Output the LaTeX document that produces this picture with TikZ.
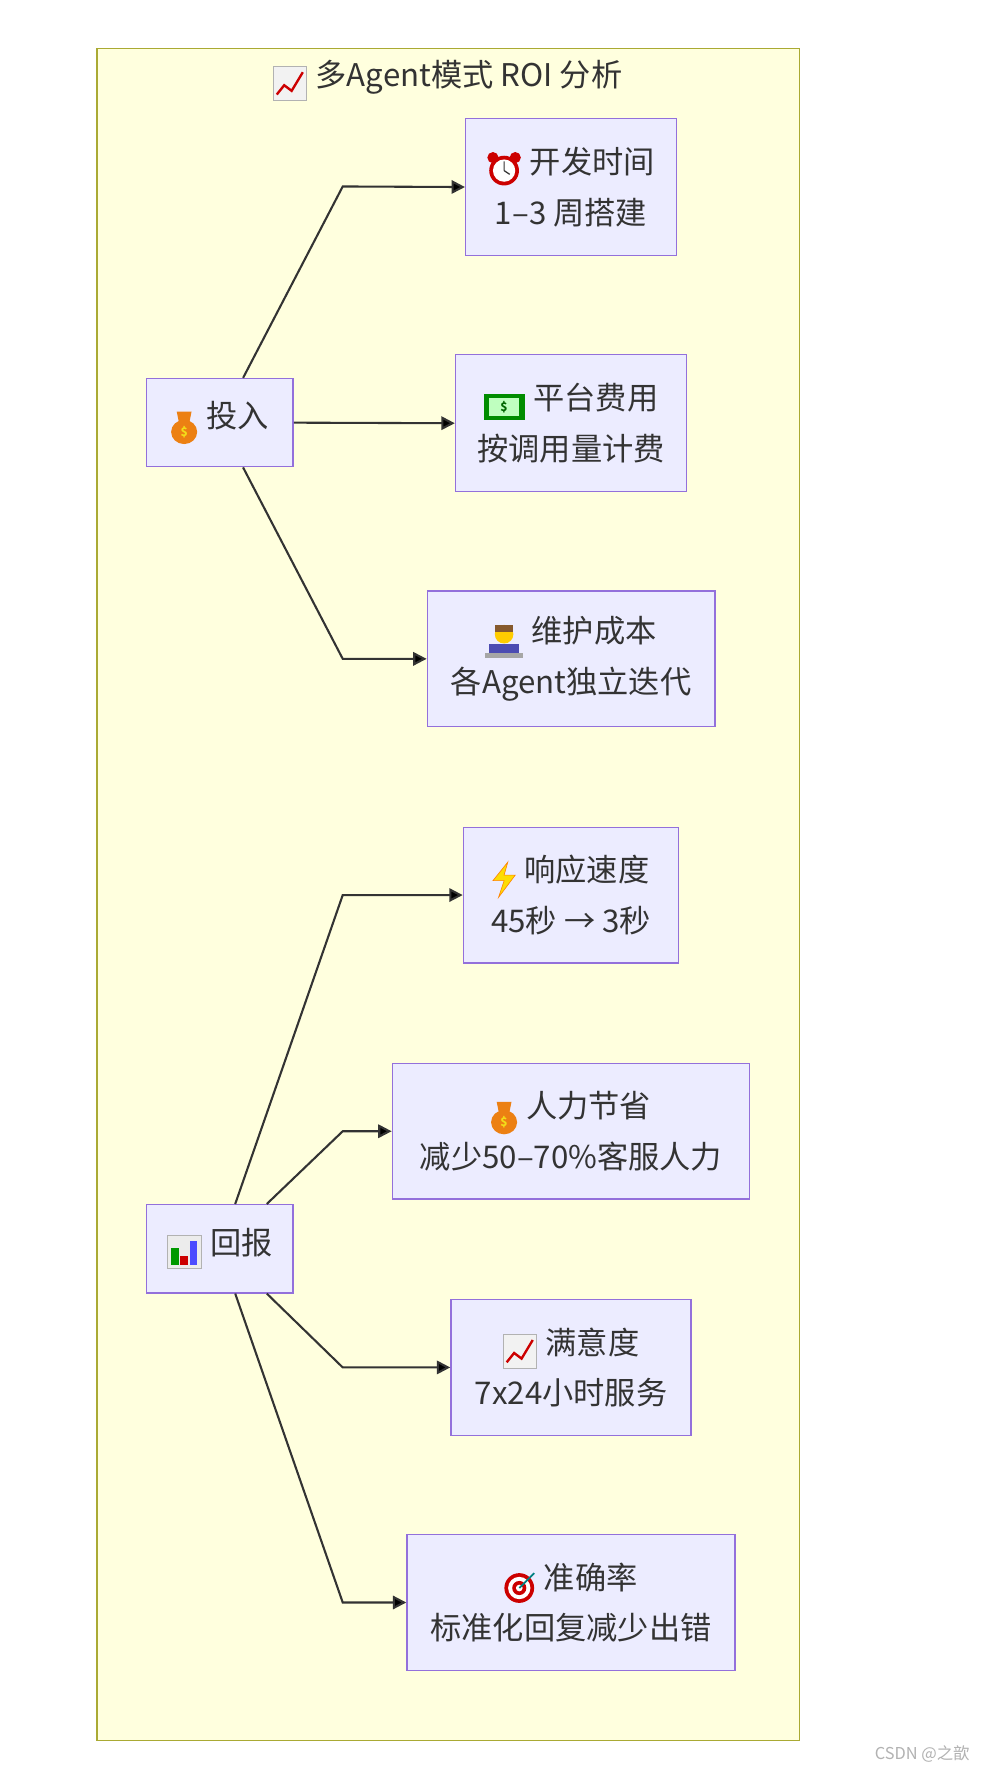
\documentclass[tikz,border=0pt]{standalone}
\usepackage{fontspec}
\setmainfont{Noto Sans CJK SC}
\usetikzlibrary{arrows.meta}
\definecolor{frameF}{HTML}{FFFFDE}
\definecolor{frameD}{HTML}{AAAA33}
\definecolor{boxF}{HTML}{ECECFF}
\definecolor{boxD}{HTML}{9370DB}
\definecolor{edgeC}{HTML}{333333}
\tikzset{ic/.style={baseline=-2pt,x=1.25pt,y=1.25pt,every node/.style={minimum width=0,minimum height=0,inner sep=0}}}
\newcommand{\icBag}{\tikz[ic]{\fill[orange!70!brown] (0,-4) ellipse (7 and 6.5);\fill[orange!70!brown](-3,2)--(3,2)--(4,7)--(-4,7)--cycle;\node[font=\fontsize{8}{8}\selectfont\bfseries,text=yellow!80!brown] at (0,-4){\$};}\hspace{6pt}}
\newcommand{\icClock}{\tikz[ic]{\fill[red!80!black](0,0) circle (8);\fill[white](0,0) circle (6);\draw[thick](0,0)--(0,5) (0,0)--(3,-2);\fill[red!80!black](-6,7) circle (3) (6,7) circle (3);}\hspace{6pt}}
\newcommand{\icMoney}{\tikz[ic]{\fill[green!55!black](-11,-7) rectangle (11,7);\fill[green!25!white](-8,-5) rectangle (8,5);\node[font=\fontsize{8}{8}\selectfont\bfseries,text=green!40!black]{\$};}\hspace{6pt}}
\newcommand{\icDev}{\tikz[ic]{\fill[orange!40!yellow](0,3) circle (5);\fill[brown!70!black](-5,4) rectangle (5,8);\fill[blue!40!gray](-8,-9) rectangle (8,-2);\fill[gray!70](-10,-10) rectangle (10,-7);}\hspace{6pt}}
\newcommand{\icBolt}{\tikz[ic]{\fill[yellow!80!orange,draw=orange,thin](2,9)--(-6,-1)--(0,-1)--(-3,-10)--(6,2)--(0,2)--cycle;}\hspace{6pt}}
\newcommand{\icBars}{\tikz[ic]{\fill[gray!15,draw=gray!60](-9,-9) rectangle (9,9);\fill[green!60!black](-7,-7) rectangle (-3,2);\fill[red!80!black](-2,-7) rectangle (2,-2);\fill[blue!70](3,-7) rectangle (7,6);}\hspace{6pt}}
\newcommand{\icUp}{\tikz[ic]{\fill[gray!10,draw=gray!60](-9,-9) rectangle (9,9);\draw[red!80!black,line width=1.6pt](-7,-6)--(-3,-1)--(1,-4)--(7,6);}\hspace{6pt}}
\newcommand{\icTarget}{\tikz[ic]{\fill[red!80!black](0,-1) circle (8);\fill[white](0,-1) circle (6);\fill[red!80!black](0,-1) circle (3.8);\fill[white](0,-1) circle (1.8);\draw[teal,line width=1.2pt](0,-1)--(8,7);}\hspace{6pt}}
\begin{document}
\begin{tikzpicture}[x=0.7578pt,y=-0.7596pt,
  box/.style={draw=boxD,fill=boxF,line width=0.9pt,align=center,font=\fontsize{21}{34}\selectfont,text=edgeC,inner sep=0},
  edge/.style={draw=edgeC,line width=1.4pt,-{Triangle[length=9pt,width=9pt]}}]
\useasboundingbox (0,0) rectangle (871,1568);
\fill[white] (0,0) rectangle (871,1568);
\draw[frameD,fill=frameF,line width=0.9pt] (86,43) rectangle (709,1540);
\node[font=\fontsize{21}{24}\selectfont,text=edgeC] (title) at (397,71) {\icUp 多Agent模式 ROI 分析};
\node[box,minimum width=130*0.758pt,minimum height=78*0.76pt] (in) at (195,374) {\icBag 投入};
\node[box,minimum width=130*0.758pt,minimum height=78*0.76pt] (ret) at (195,1105) {\icBars 回报};
\node[box,minimum width=187*0.758pt,minimum height=121*0.76pt] (a) at (506.5,165.5) {\icClock 开发时间\\1–3 周搭建};
\node[box,minimum width=205*0.758pt,minimum height=121*0.76pt] (b) at (506.5,374.5) {\icMoney 平台费用\\按调用量计费};
\node[box,minimum width=255*0.758pt,minimum height=120*0.76pt] (c) at (506.5,583) {\icDev 维护成本\\各Agent独立迭代};
\node[box,minimum width=191*0.758pt,minimum height=120*0.76pt] (d) at (506.5,792) {\icBolt 响应速度\\45秒 → 3秒};
\node[box,minimum width=317*0.758pt,minimum height=120*0.76pt] (e) at (506.5,1001) {\icBag 人力节省\\减少50–70\%客服人力};
\node[box,minimum width=213*0.758pt,minimum height=120*0.76pt] (f) at (506.5,1210) {\icUp 满意度\\7x24小时服务};
\node[box,minimum width=291*0.758pt,minimum height=120*0.76pt] (g) at (506.5,1418) {\icTarget 准确率\\标准化回复减少出错};
\coordinate (ca) at (304,165);\coordinate (cc) at (304,583);
\coordinate (cd) at (304,792);\coordinate (ce) at (304,1001);
\coordinate (cf) at (304,1210);\coordinate (cg) at (304,1418);
\draw[edge] (in.north east)++(-45,0) -- (ca) -- (a.west);
\draw[edge] (in.east) -- (b.west);
\draw[edge] (in.south east)++(-45,0) -- (cc) -- (c.west);
\draw[edge] (ret.north east)++(-52,0) -- (cd) -- (d.west);
\draw[edge] (ret.north east)++(-24,0) -- (ce) -- (e.west);
\draw[edge] (ret.south east)++(-24,0) -- (cf) -- (f.west);
\draw[edge] (ret.south east)++(-52,0) -- (cg) -- (g.west);
\node[font=\fontsize{11}{12}\selectfont,text=gray!60] (wm) at (818,1552) {CSDN @之歆};
\end{tikzpicture}
\end{document}
